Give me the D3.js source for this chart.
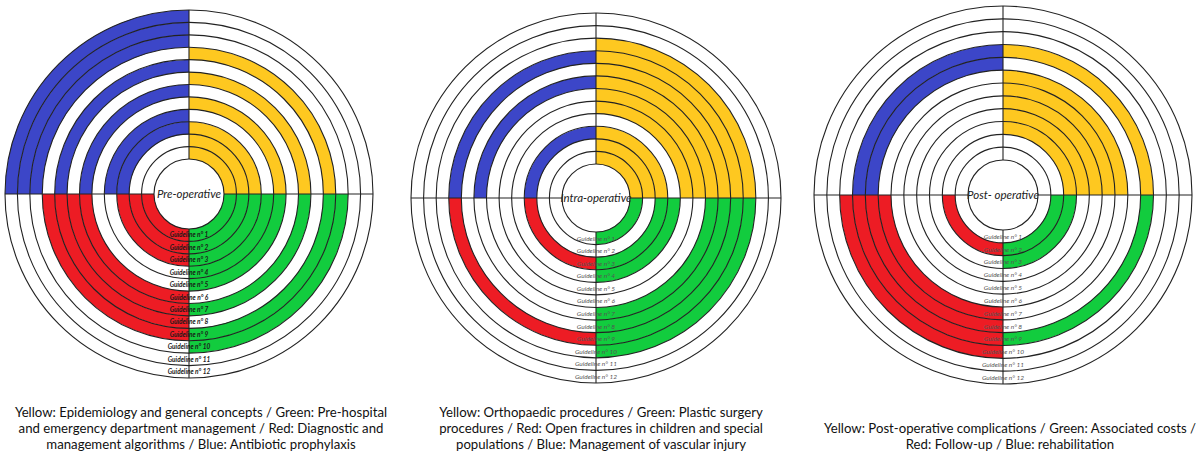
<!DOCTYPE html>
<html>
<head>
<meta charset="utf-8">
<script src="https://cdn.jsdelivr.net/npm/d3@7"></script>
<style>
  body { margin: 0; background: #fff; }
</style>
</head>
<body>
<div id="chart"></div>
<script>
// phases, one wheel each
const phases = ["Pre-operative", "Intra-operative", "Post- operative"]
const topics = ["Yellow", "Green", "Red", "Blue"]
const guidelines = d3.range(1, 13).map(i => `Guideline n° ${i}`)

// guideline numbers that cover each topic, per phase
const preYellow = [1, 2, 3, 5, 7, 9]
const preGreen = [1, 2, 3, 4, 5, 7, 9, 10]
const preRed = [1, 2, 3, 6, 7, 8, 9]
const preBlue = [3, 4, 6, 8, 10, 11, 12]

const intraYellow = [1, 2, 3, 5, 6, 7, 8, 9, 10]
const intraGreen = [1, 3, 4, 7, 8, 9, 10]
const intraRed = [3, 9]
const intraBlue = [3, 7, 9]

const postYellow = [3, 4, 5, 6, 7, 9]
const postGreen = [2, 3, 9]
const postRed = [2, 7, 8, 9, 10]
const postBlue = [8, 9]

const captions = [
    ["Yellow: Epidemiology and general concepts / Green: Pre-hospital",
        "and emergency department management / Red: Diagnostic and",
        "management algorithms / Blue: Antibiotic prophylaxis"],
    ["Yellow: Orthopaedic procedures / Green: Plastic surgery",
        "procedures / Red: Open fractures in children and special",
        "populations / Blue: Management of vascular injury"],
    ["Yellow: Post-operative complications / Green: Associated costs /",
        "Red: Follow-up / Blue: rehabilitation"]
]

const coverage = [
    [preYellow, preGreen, preRed, preBlue],
    [intraYellow, intraGreen, intraRed, intraBlue],
    [postYellow, postGreen, postRed, postBlue]
]

const width = 1200,
    height = 469,
    color = d3.scaleOrdinal(topics, ["#fec820", "#12cc3e", "#ed1c24", "#3c46c8"]),
    angle = d3.scaleBand(topics, [0, 2 * Math.PI]), // yellow top-right, clockwise
    wheels = [ // center and radii of each wheel
        {cx: 189, cy: 194, r0: 35, r1: 184, labelColor: "#1a1a1a"},
        {cx: 596, cy: 198, r0: 34, r1: 185, labelColor: "#555"},
        {cx: 1003, cy: 195, r0: 35, r1: 189, labelColor: "#555"}
    ],
    captionX = [201, 601, 1010],
    captionTop = [412, 412, 428]

const svg = d3.select("#chart")
    .append("svg")
    .attr("width", width)
    .attr("height", height)
    .attr("viewBox", [0, 0, width, height])

phases.forEach((phase, p) => {
    const w = wheels[p]
    const radius = d3.scaleLinear([0, guidelines.length], [w.r0, w.r1])
    const arc = d3.arc()

    // one cell for every ring x quadrant
    const cells = []
    topics.forEach((t, k) => guidelines.forEach((g, i) => cells.push({
        topic: t,
        ring: i,
        on: coverage[p][k].includes(i + 1)
    })))

    const g = svg.append("g")
        .attr("transform", `translate(${w.cx},${w.cy})`)

    g.append("g")
        .selectAll("path")
        .data(cells)
        .join("path")
        .attr("d", d => arc({
            innerRadius: radius(d.ring),
            outerRadius: radius(d.ring + 1),
            startAngle: angle(d.topic),
            endAngle: angle(d.topic) + angle.bandwidth()
        }))
        .attr("fill", d => d.on ? color(d.topic) : "#fff")

    // ring outlines
    g.append("g")
        .attr("fill", "none")
        .attr("stroke", "#222")
        .attr("stroke-width", 1.1)
        .selectAll("circle")
        .data(d3.range(guidelines.length + 1))
        .join("circle")
        .attr("r", d => radius(d))

    // quadrant axes
    g.append("g")
        .attr("stroke", "#222")
        .attr("stroke-width", 1.1)
        .call(a => a.append("line").attr("x1", -w.r1).attr("x2", -w.r0))
        .call(a => a.append("line").attr("x1", w.r0).attr("x2", w.r1))
        .call(a => a.append("line").attr("y1", -w.r1).attr("y2", -w.r0))
        .call(a => a.append("line").attr("y1", w.r0).attr("y2", w.r1))

    g.append("text")
        .attr("text-anchor", "middle")
        .attr("dy", "0.35em")
        .attr("font-family", "Lato, 'Open Sans', sans-serif")
        .attr("font-style", "italic")
        .attr("font-size", 11.5)
        .attr("fill", "#222")
        .text(phase)

    g.append("g")
        .attr("text-anchor", "middle")
        .attr("font-family", "Lato, 'Open Sans', sans-serif")
        .attr("font-style", "italic")
        .attr("font-weight", p === 0 ? "bold" : "normal")
        .attr("font-size", 6.5)
        .attr("fill", w.labelColor)
        .selectAll("text")
        .data(guidelines)
        .join("text")
        .attr("y", (d, i) => radius(i + 0.5))
        .attr("dy", "0.35em")
        .text(d => d)

    svg.append("g")
        .attr("text-anchor", "middle")
        .attr("font-family", "Lato, 'Open Sans', sans-serif")
        .attr("font-size", 13.2)
        .attr("fill", "#111")
        .selectAll("text")
        .data(captions[p])
        .join("text")
        .attr("x", captionX[p])
        .attr("y", (d, i) => captionTop[p] + i * 16)
        .attr("dy", "0.35em")
        .text(d => d)
})
</script>
</body>
</html>
